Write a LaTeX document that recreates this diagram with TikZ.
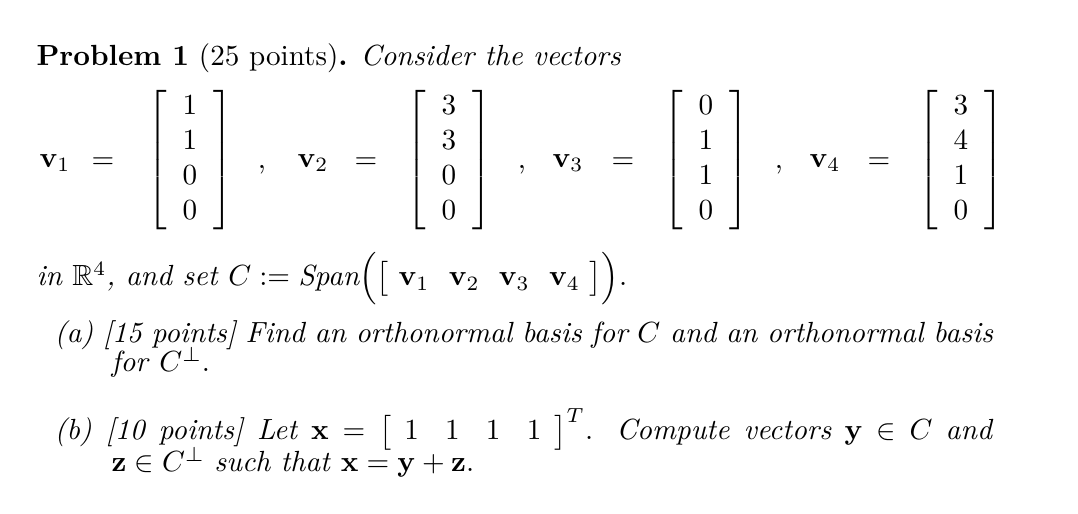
\documentclass[tikz,border=0pt]{standalone}
\usepackage{amsmath,amssymb}
\begin{document}
\begin{tikzpicture}[x=0.343pt,y=-0.343pt,
  t/.style={anchor=base west,inner sep=0pt},
  c/.style={anchor=center,inner sep=0pt}]
\useasboundingbox (0,0) rectangle (1078,514);
\renewcommand{\arraystretch}{1.0}
\node[t] (title) at (36,66) {\textbf{Problem 1} (25 points)\textbf{.} \textit{Consider the vectors}};
\node[c] (l1) at (55,163) {$\mathbf{v}_1$};
\node[c] (e1) at (103,163) {$=$};
\node[c] (m1) at (190,160) {$\begin{bmatrix}\;\;1\;\;\\1\\0\\0\end{bmatrix}$};
\node[c] (k1) at (262,170) {,};
\node[c] (l2) at (313,163) {$\mathbf{v}_2$};
\node[c] (e2) at (366,163) {$=$};
\node[c] (m2) at (449,160) {$\begin{bmatrix}\;\;3\;\;\\3\\0\\0\end{bmatrix}$};
\node[c] (k2) at (522,170) {,};
\node[c] (l3) at (568,163) {$\mathbf{v}_3$};
\node[c] (e3) at (623,163) {$=$};
\node[c] (m3) at (706,160) {$\begin{bmatrix}\;\;0\;\;\\1\\1\\0\end{bmatrix}$};
\node[c] (k3) at (779,170) {,};
\node[c] (l4) at (825,163) {$\mathbf{v}_4$};
\node[c] (e4) at (879,163) {$=$};
\node[c] (m4) at (961,160) {$\begin{bmatrix}\;\;3\;\;\\4\\1\\0\end{bmatrix}$};
\node[t] (span) at (36,286) {\textit{in} $\mathbb{R}^4$\textit{, and set} $C := \textit{Span}\Big(\big[\ \mathbf{v}_1\ \ \mathbf{v}_2\ \ \mathbf{v}_3\ \ \mathbf{v}_4\ \big]\Big).$};
\node[t] (a1) at (54,343) {\makebox[322pt][s]{\textit{(a) [15 points] Find an orthonormal basis for $C$ and an orthonormal basis}}};
\node[t] (a2) at (111,372) {\textit{for} $C^{\perp}$.};
\node[t] (b1) at (54,440) {\makebox[322pt][s]{\textit{(b) [10 points] Let} $\mathbf{x} = \big[\ 1\ \ 1\ \ 1\ \ 1\ \big]^T$. \textit{Compute vectors} $\mathbf{y}\in C$ \textit{and}}};
\node[t] (b2) at (111,472) {$\mathbf{z}\in C^{\perp}$ \textit{such that} $\mathbf{x}=\mathbf{y}+\mathbf{z}$.};
\end{tikzpicture}
\end{document}
